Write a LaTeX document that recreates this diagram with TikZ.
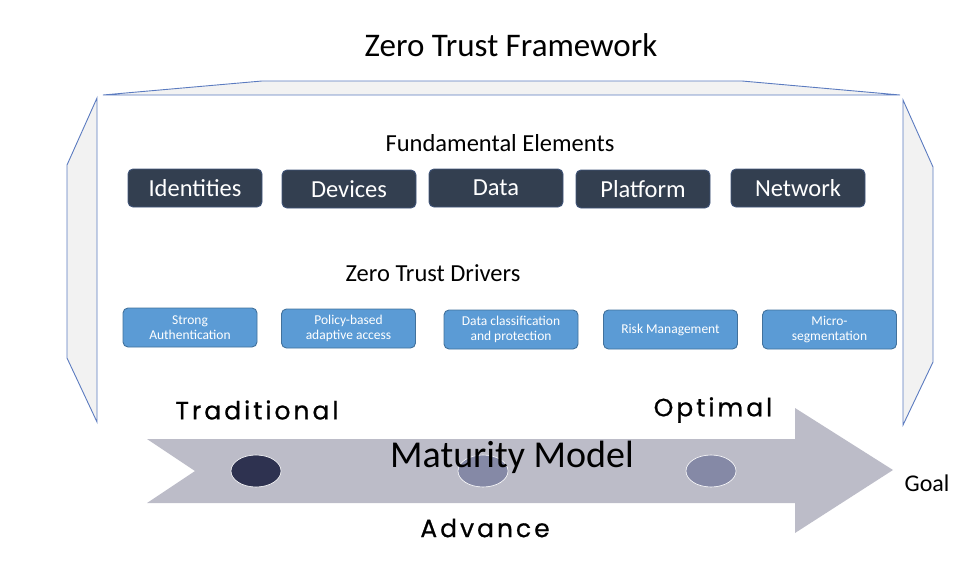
\documentclass[tikz,border=0pt]{standalone}
\usepackage{fontspec}
\setmainfont{Carlito}
\newfontfamily\gothic[LetterSpace=12,FakeBold=0.7]{Poppins}
\usetikzlibrary{shapes.geometric}
\definecolor{framefill}{HTML}{F2F2F2}
\definecolor{frameline}{HTML}{5B7BC0}
\definecolor{elemfill}{HTML}{333F50}
\definecolor{elemline}{HTML}{41557A}
\definecolor{drvfill}{HTML}{5B9BD5}
\definecolor{drvline}{HTML}{41719C}
\definecolor{arrowc}{HTML}{BCBCC8}
\definecolor{dotdark}{HTML}{2E3250}
\definecolor{dotmid}{HTML}{8589A6}
\tikzset{
  bevel/.style={fill=framefill, draw=frameline, line width=0.9pt, line join=miter},
  elem/.style={draw=elemline, line width=0.9pt, fill=elemfill, rounded corners=5pt, minimum width=134pt, minimum height=38pt, inner sep=0pt, text=white, font=\fontsize{24.5}{28}\selectfont},
  drv/.style={draw=drvline, line width=0.9pt, fill=drvfill, rounded corners=5pt, minimum width=134pt, minimum height=39pt, inner sep=0pt, text=white, align=center, font=\fontsize{13.5}{15.5}\selectfont},
  dot/.style={ellipse, draw=white, line width=0.6pt, minimum width=50pt, minimum height=32pt, inner sep=0pt},
  stage/.style={font=\gothic\fontsize{25}{29}\selectfont, inner sep=0pt}
}
\begin{document}
\begin{tikzpicture}[x=1pt,y=-1pt]
\useasboundingbox (0,0) rectangle (971,581);
% frame bevels
\path[bevel] (103,95) -- (262,81) -- (742,81) -- (900,95) -- cycle;
\path[bevel] (97,98) -- (67,165) -- (67,358) -- (97,422) -- cycle;
\path[bevel] (903,100) -- (933,167) -- (933,362) -- (903,425) -- cycle;

\node[font=\fontsize{33}{38}\selectfont] (title) at (511,45) {Zero Trust Framework};
\node[font=\fontsize{24.5}{28}\selectfont] (fund) at (500,143) {Fundamental Elements};

\node[elem] (ident) at (195,188) {Identities};
\node[elem] (dev) at (349,189) {Devices};
\node[elem] (data) at (496,188) {Data};
\node[elem] (plat) at (643,189) {Platform};
\node[elem] (net) at (798,188) {Network};

\node[font=\fontsize{24.5}{28}\selectfont] (drivers) at (433,273) {Zero Trust Drivers};

\node[drv] (auth) at (190,327.5) {Strong\\Authentication};
\node[drv] (policy) at (348.5,328.5) {Policy-based\\adaptive access};
\node[drv] (dclass) at (511,329.5) {Data classification\\and protection};
\node[drv] (risk) at (670.5,329.5) {Risk Management};
\node[drv] (micro) at (829.5,329.5) {Micro-\\segmentation};

% maturity arrow
\fill[arrowc] (147,439) -- (795,439) -- (795,408) -- (893,470) -- (795,533) -- (795,503) -- (147,503) -- (195,471) -- cycle;
\node[dot, fill=dotdark] (e1) at (256,471) {};
\node[dot, fill=dotmid] (e2) at (483,471) {};
\node[dot, fill=dotmid] (e3) at (711,471) {};
\node[font=\fontsize{38}{42}\selectfont] (mm) at (512,457) {Maturity Model};

\node[stage] (trad) at (257,410) {Traditional};
\node[stage] (opt) at (713,410) {Optimal};
\node[stage] (adv) at (485,528) {Advance};
\node[font=\fontsize{24}{28}\selectfont] (goal) at (927,483) {Goal};
\end{tikzpicture}
\end{document}
